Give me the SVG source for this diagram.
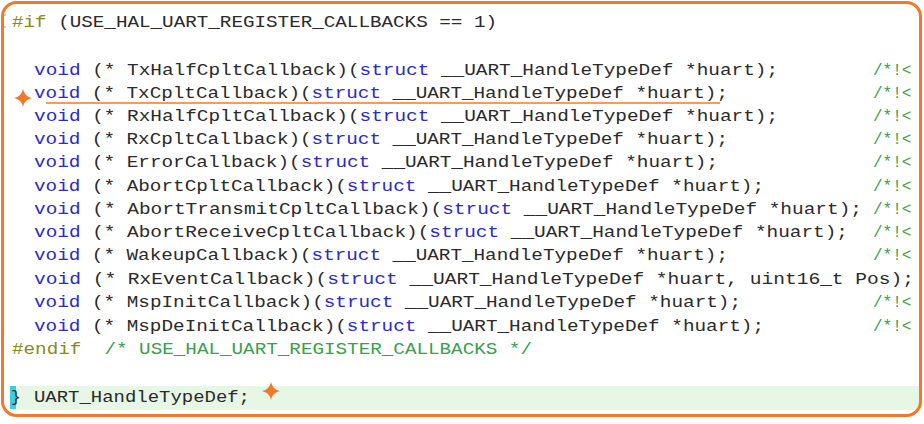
<svg xmlns="http://www.w3.org/2000/svg" width="924" height="424" viewBox="0 0 924 424">
<style>
text{font-family:"Liberation Mono","Courier New",monospace;font-size:16px;fill:#2a2a2a;white-space:pre}
.k{fill:#2b2bc8}.p{fill:#8a8a20}.c{fill:#3aa04a}
</style>
<defs>
<path id="star" d="M0,-9 Q1.5,-1.5 9,0 Q1.5,1.5 0,9 Q-1.5,1.5 -9,0 Q-1.5,-1.5 0,-9Z" fill="#f07a2a"/>
</defs>
<rect x="0" y="0" width="924" height="424" fill="#fff"/>
<rect x="12" y="386" width="907" height="24" fill="#e6f7e6"/>
<rect x="10" y="386" width="6" height="23" fill="#3ad0e0"/>
<path d="M6,15 H3 V27 H6" fill="none" stroke="#999" stroke-width="1"/>
<g id="code">
<text x="12" y="27" textLength="485" lengthAdjust="spacingAndGlyphs"><tspan class="p">#if</tspan> (USE_HAL_UART_REGISTER_CALLBACKS == 1)</text>
<text x="34" y="75" textLength="744" lengthAdjust="spacingAndGlyphs"><tspan class="k">void</tspan> (* TxHalfCpltCallback)(<tspan class="k">struct</tspan> __UART_HandleTypeDef *huart);</text>
<text x="34" y="98" textLength="694" lengthAdjust="spacingAndGlyphs"><tspan class="k">void</tspan> (* TxCpltCallback)(<tspan class="k">struct</tspan> __UART_HandleTypeDef *huart);</text>
<text x="34" y="121" textLength="744" lengthAdjust="spacingAndGlyphs"><tspan class="k">void</tspan> (* RxHalfCpltCallback)(<tspan class="k">struct</tspan> __UART_HandleTypeDef *huart);</text>
<text x="34" y="144" textLength="694" lengthAdjust="spacingAndGlyphs"><tspan class="k">void</tspan> (* RxCpltCallback)(<tspan class="k">struct</tspan> __UART_HandleTypeDef *huart);</text>
<text x="34" y="167" textLength="684" lengthAdjust="spacingAndGlyphs"><tspan class="k">void</tspan> (* ErrorCallback)(<tspan class="k">struct</tspan> __UART_HandleTypeDef *huart);</text>
<text x="34" y="191" textLength="730" lengthAdjust="spacingAndGlyphs"><tspan class="k">void</tspan> (* AbortCpltCallback)(<tspan class="k">struct</tspan> __UART_HandleTypeDef *huart);</text>
<text x="34" y="214" textLength="828" lengthAdjust="spacingAndGlyphs"><tspan class="k">void</tspan> (* AbortTransmitCpltCallback)(<tspan class="k">struct</tspan> __UART_HandleTypeDef *huart);</text>
<text x="34" y="237" textLength="814" lengthAdjust="spacingAndGlyphs"><tspan class="k">void</tspan> (* AbortReceiveCpltCallback)(<tspan class="k">struct</tspan> __UART_HandleTypeDef *huart);</text>
<text x="34" y="260" textLength="694" lengthAdjust="spacingAndGlyphs"><tspan class="k">void</tspan> (* WakeupCallback)(<tspan class="k">struct</tspan> __UART_HandleTypeDef *huart);</text>
<text x="34" y="284" textLength="880" lengthAdjust="spacingAndGlyphs"><tspan class="k">void</tspan> (* RxEventCallback)(<tspan class="k">struct</tspan> __UART_HandleTypeDef *huart, uint16_t Pos);</text>
<text x="34" y="307" textLength="707" lengthAdjust="spacingAndGlyphs"><tspan class="k">void</tspan> (* MspInitCallback)(<tspan class="k">struct</tspan> __UART_HandleTypeDef *huart);</text>
<text x="34" y="331" textLength="730" lengthAdjust="spacingAndGlyphs"><tspan class="k">void</tspan> (* MspDeInitCallback)(<tspan class="k">struct</tspan> __UART_HandleTypeDef *huart);</text>
<g class="c">
<text class="c" x="873" y="75">/*!&lt;</text>
<text class="c" x="873" y="98">/*!&lt;</text>
<text class="c" x="873" y="121">/*!&lt;</text>
<text class="c" x="873" y="144">/*!&lt;</text>
<text class="c" x="873" y="167">/*!&lt;</text>
<text class="c" x="873" y="191">/*!&lt;</text>
<text class="c" x="873" y="214">/*!&lt;</text>
<text class="c" x="873" y="237">/*!&lt;</text>
<text class="c" x="873" y="260">/*!&lt;</text>
<text class="c" x="873" y="307">/*!&lt;</text>
<text class="c" x="873" y="331">/*!&lt;</text>
</g>
<text x="12" y="354" textLength="520" lengthAdjust="spacingAndGlyphs"><tspan class="p">#endif</tspan>  <tspan class="c">/* USE_HAL_UART_REGISTER_CALLBACKS */</tspan></text>
<text x="11" y="402">}</text>
<text x="34" y="402" textLength="216" lengthAdjust="spacingAndGlyphs">UART_HandleTypeDef;</text>
</g>
<g id="marks">
<line x1="46" y1="103" x2="720" y2="103" stroke="#f07a2a" stroke-width="1.5"/>
<use href="#star" x="23" y="98"/>
<use href="#star" x="271" y="391"/>
</g>
<rect x="2.5" y="2.5" width="918" height="413" rx="14" fill="none" stroke="#f07a2a" stroke-width="3"/>
</svg>
